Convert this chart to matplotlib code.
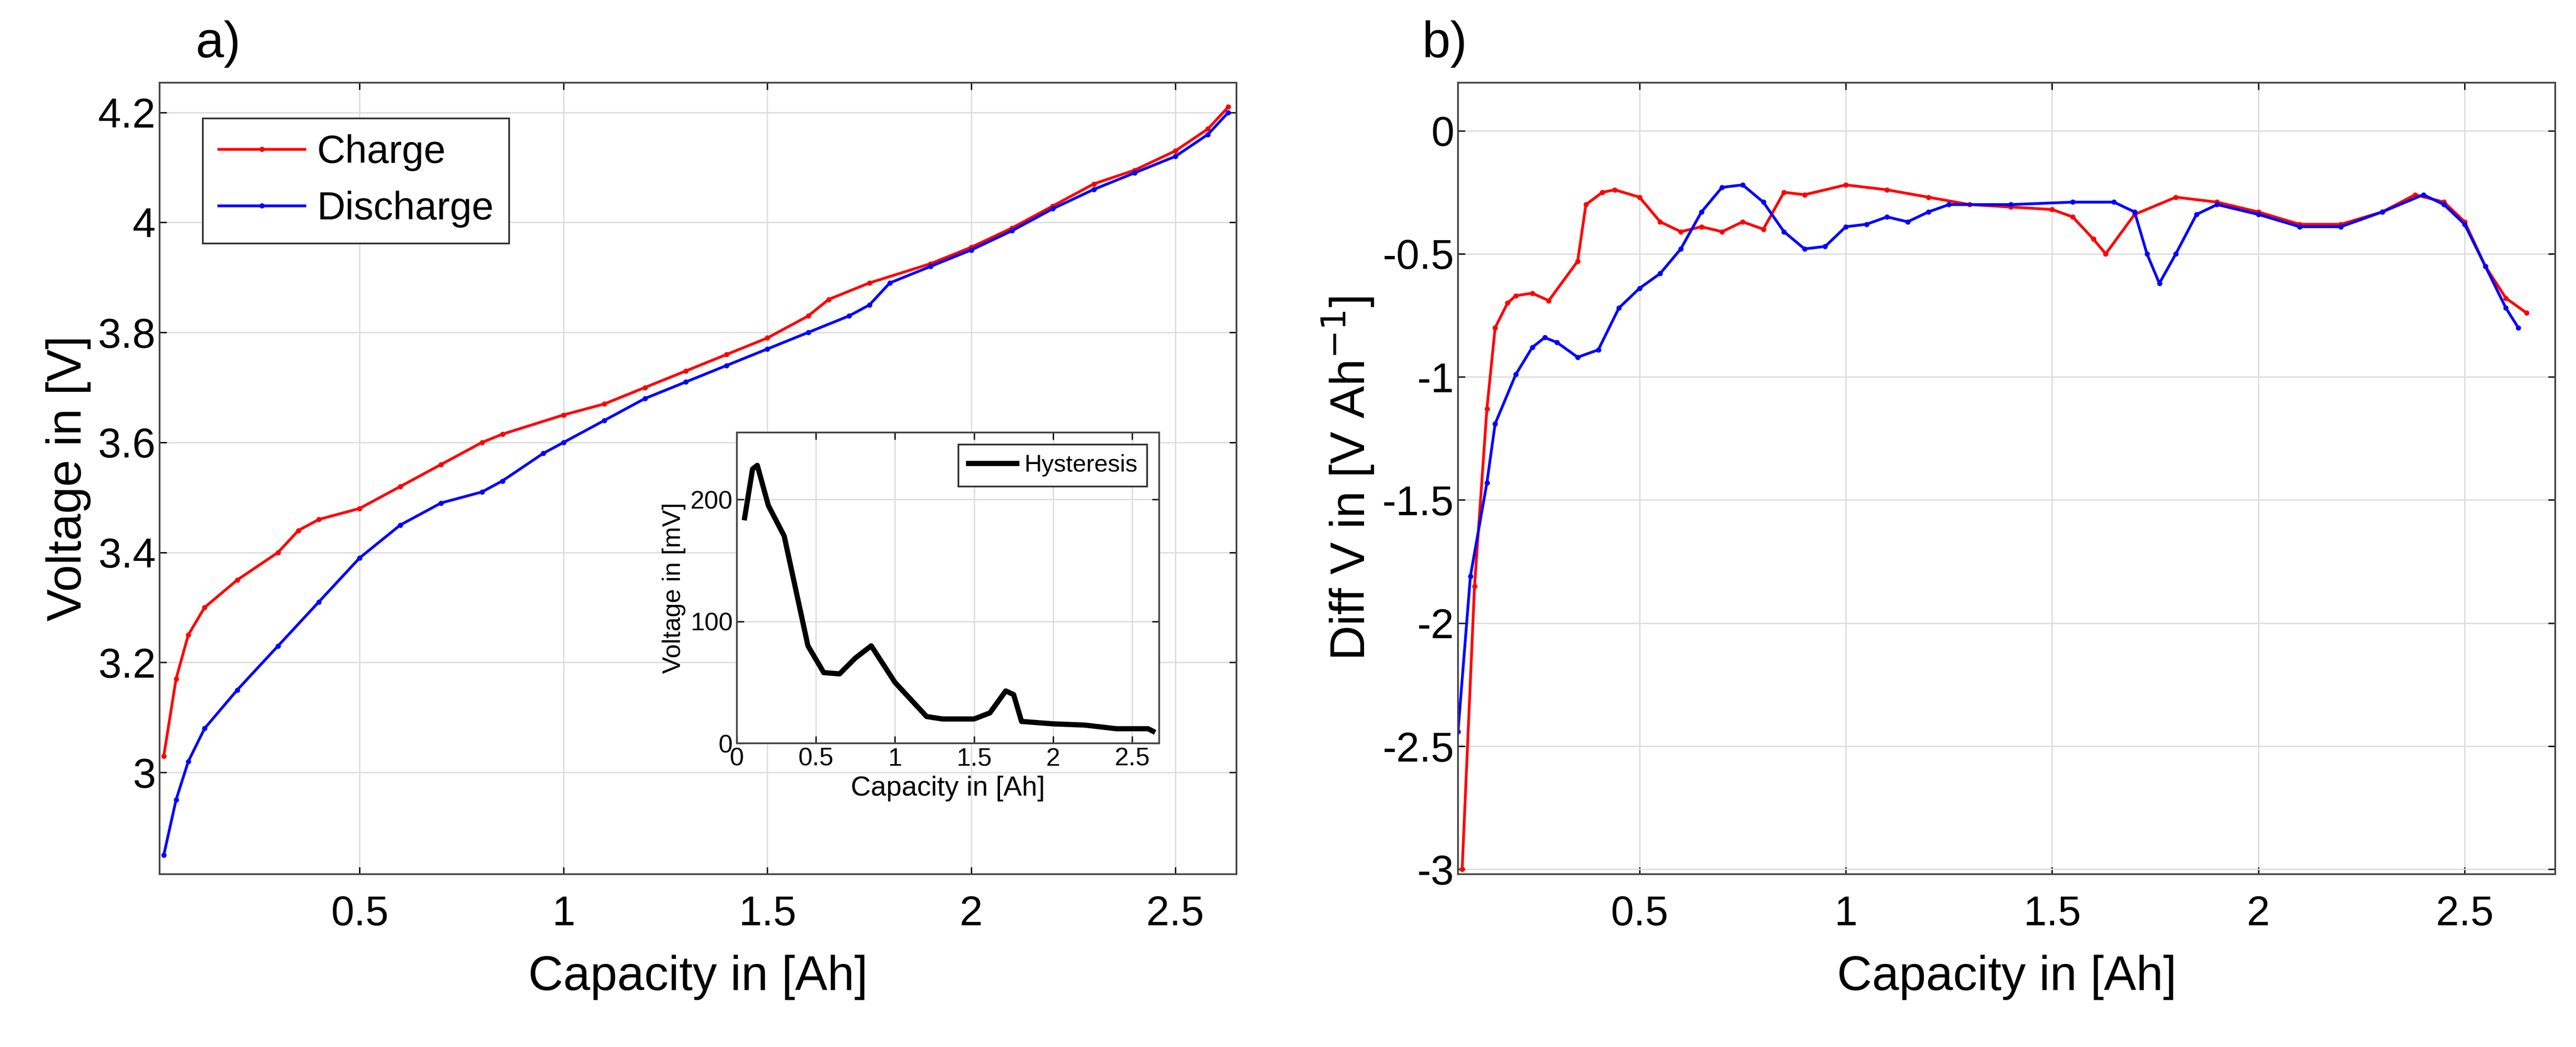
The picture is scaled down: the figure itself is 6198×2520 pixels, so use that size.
import matplotlib
matplotlib.use("Agg")
import matplotlib.pyplot as plt

plt.rcParams['font.family'] = ['Liberation Sans', 'DejaVu Sans']

cap_ch = [0.02,0.05,0.08,0.12,0.2,0.3,0.35,0.4,0.5,0.6,0.7,0.8,0.85,1.0,1.1,1.2,1.3,1.4,1.5,1.6,1.65,1.75,1.9,2.0,2.1,2.2,2.3,2.4,2.5,2.58,2.63]
v_ch = [3.03,3.17,3.25,3.30,3.35,3.40,3.44,3.46,3.48,3.52,3.56,3.60,3.615,3.65,3.67,3.70,3.73,3.76,3.79,3.83,3.86,3.89,3.925,3.955,3.99,4.03,4.07,4.095,4.13,4.17,4.21]
cap_dis = [0.02,0.05,0.08,0.12,0.2,0.3,0.4,0.5,0.6,0.7,0.8,0.85,0.95,1.0,1.1,1.2,1.3,1.4,1.5,1.6,1.7,1.75,1.8,1.9,2.0,2.1,2.2,2.3,2.4,2.5,2.58,2.63]
v_dis = [2.85,2.95,3.02,3.08,3.15,3.23,3.31,3.39,3.45,3.49,3.51,3.53,3.58,3.60,3.64,3.68,3.71,3.74,3.77,3.80,3.83,3.85,3.89,3.92,3.95,3.985,4.025,4.06,4.09,4.12,4.16,4.20]

cap_hys = [0.05,0.1,0.13,0.2,0.3,0.35,0.45,0.55,0.65,0.75,0.85,1.0,1.2,1.3,1.5,1.6,1.7,1.75,1.8,2.0,2.2,2.4,2.6,2.63]
v_hys = [185,225,228,195,170,140,80,58,57,70,80,50,22,20,20,25,43,40,18,16,15,12,12,10]

cap_dch = [0.07,0.1,0.13,0.15,0.18,0.2,0.24,0.28,0.35,0.37,0.41,0.44,0.5,0.55,0.6,0.65,0.7,0.75,0.8,0.85,0.9,1.0,1.1,1.2,1.3,1.4,1.5,1.55,1.6,1.63,1.7,1.8,1.9,2.0,2.1,2.2,2.3,2.38,2.45,2.5,2.55,2.6,2.65]
d_ch = [-3.0,-1.85,-1.13,-0.8,-0.7,-0.67,-0.66,-0.69,-0.53,-0.3,-0.25,-0.24,-0.27,-0.37,-0.41,-0.39,-0.41,-0.37,-0.4,-0.25,-0.26,-0.22,-0.24,-0.27,-0.3,-0.31,-0.32,-0.35,-0.44,-0.5,-0.34,-0.27,-0.29,-0.33,-0.38,-0.38,-0.33,-0.26,-0.29,-0.37,-0.55,-0.68,-0.74]
cap_ddis = [0.06,0.09,0.13,0.15,0.2,0.24,0.27,0.3,0.35,0.4,0.45,0.5,0.55,0.6,0.65,0.7,0.75,0.8,0.85,0.9,0.95,1.0,1.05,1.1,1.15,1.2,1.25,1.4,1.55,1.65,1.7,1.73,1.76,1.8,1.85,1.9,2.0,2.1,2.2,2.3,2.4,2.45,2.5,2.55,2.6,2.63]
d_dis = [-2.44,-1.81,-1.43,-1.19,-0.99,-0.88,-0.84,-0.86,-0.92,-0.89,-0.72,-0.64,-0.58,-0.48,-0.33,-0.23,-0.22,-0.29,-0.41,-0.48,-0.47,-0.39,-0.38,-0.35,-0.37,-0.33,-0.3,-0.3,-0.29,-0.29,-0.33,-0.5,-0.62,-0.5,-0.34,-0.3,-0.34,-0.39,-0.39,-0.33,-0.26,-0.3,-0.38,-0.55,-0.72,-0.8]

fig = plt.figure(figsize=(30.99, 12.6), dpi=200)
ax1 = fig.add_axes([0.062, 0.165, 0.418, 0.756])
ax2 = fig.add_axes([0.566, 0.165, 0.426, 0.756])
ins = fig.add_axes([0.286, 0.290, 0.164, 0.297])

def style(ax, fs):
    ax.grid(True, color='#dddddd', linewidth=1.2)
    ax.tick_params(direction='in', labelsize=fs, length=6, width=1.2, top=True, right=True)
    for s in ax.spines.values():
        s.set_color('#444444'); s.set_linewidth(1.5)

kw = dict(marker='o', markersize=3.5, linewidth=2.4)
ax1.plot(cap_ch, v_ch, color='#ff0000', label='Charge', **kw)
ax1.plot(cap_dis, v_dis, color='#0000ff', label='Discharge', **kw)
ax1.set_xlim(0.01, 2.65); ax1.set_ylim(2.815, 4.254)
ax1.set_xticks([0.5,1,1.5,2,2.5]); ax1.set_xticklabels(['0.5','1','1.5','2','2.5'])
ax1.set_yticks([3,3.2,3.4,3.6,3.8,4,4.2]); ax1.set_yticklabels(['3','3.2','3.4','3.6','3.8','4','4.2'])
style(ax1, 36)
ax1.tick_params(axis='x', pad=18)
ax1.set_xlabel('Capacity in [Ah]', fontsize=42, labelpad=18)
ax1.set_ylabel('Voltage in [V]', fontsize=42, labelpad=6)
leg = ax1.legend(loc='upper left', bbox_to_anchor=(0.04, 0.955), fontsize=34, fancybox=False,
                 edgecolor='#333333', framealpha=1, handlelength=2.2, handletextpad=0.3, borderaxespad=0)
leg.get_frame().set_linewidth(1.5)

ins.plot(cap_hys, v_hys, color='black', linewidth=4.5, label='Hysteresis')
ins.set_xlim(0, 2.67); ins.set_ylim(0, 255)
ins.set_xticks([0,0.5,1,1.5,2,2.5]); ins.set_xticklabels(['0','0.5','1','1.5','2','2.5'])
ins.set_yticks([0,100,200])
style(ins, 22)
ins.set_xlabel('Capacity in [Ah]', fontsize=24)
ins.set_ylabel('Voltage in [mV]', fontsize=22)
l2 = ins.legend(loc='upper right', fontsize=21, fancybox=False, edgecolor='#333333', framealpha=1,
                handletextpad=0.3)
l2.get_frame().set_linewidth(1.5)

ax2.plot(cap_dch, d_ch, color='#ff0000', **kw)
ax2.plot(cap_ddis, d_dis, color='#0000ff', **kw)
ax2.set_xlim(0.06, 2.72); ax2.set_ylim(-3.02, 0.195)
ax2.set_xticks([0.5,1,1.5,2,2.5]); ax2.set_xticklabels(['0.5','1','1.5','2','2.5'])
ax2.set_yticks([0,-0.5,-1,-1.5,-2,-2.5,-3]); ax2.set_yticklabels(['0','-0.5','-1','-1.5','-2','-2.5','-3'])
style(ax2, 36)
ax2.tick_params(axis='x', pad=18)
ax2.set_xlabel('Capacity in [Ah]', fontsize=42, labelpad=18)
ax2.set_ylabel('Diff V in [V Ah$^{-1}$]', fontsize=42, labelpad=6)

fig.text(0.076, 0.958, 'a)', fontsize=44, va='center')
fig.text(0.552, 0.958, 'b)', fontsize=44, va='center')

fig.savefig('out.png', dpi=200, facecolor='white')
